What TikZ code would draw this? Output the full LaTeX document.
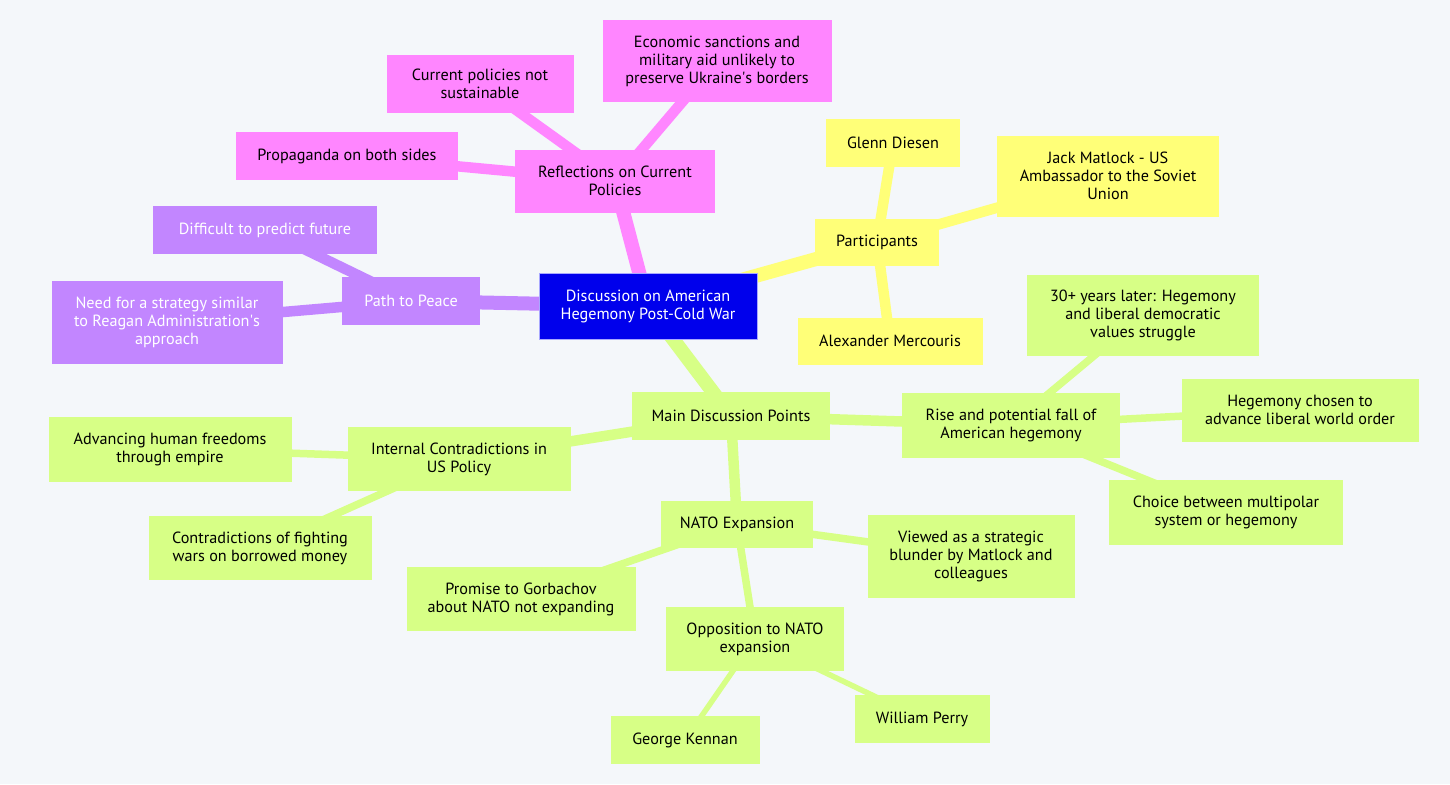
\documentclass[tikz,border=0pt]{standalone}
\usepackage{fontspec}
\setmainfont{PT Sans}
\definecolor{bgc}{HTML}{F4F7FA}
\definecolor{rootc}{HTML}{0000EC}
\definecolor{rootb}{HTML}{A8A8FF}
\definecolor{yel}{HTML}{FFFF78}
\definecolor{grn}{HTML}{D7FF86}
\definecolor{pur}{HTML}{C286FF}
\definecolor{pnk}{HTML}{FF86FF}
\pgfdeclarelayer{bglayer}
\pgfdeclarelayer{edges}
\pgfsetlayers{bglayer,edges,main}
\begin{document}
\begin{tikzpicture}[x=1pt,y=-1pt,
  every node/.style={font=\fontsize{16.2}{18}\selectfont,align=center,inner sep=0pt,text=black},
  sz/.style 2 args={minimum width=#1pt,minimum height=#2pt},
  rootbox/.style={fill=rootc,draw=rootb,line width=0.8pt,text=white},
  ybox/.style={fill=yel},
  gbox/.style={fill=grn},
  pbox/.style={fill=pur,text=white},
  kbox/.style={fill=pnk},
  e0/.style={line width=14pt},
  e1/.style={line width=10.5pt},
  e2/.style={line width=7.5pt},
  e3/.style={line width=5.5pt}]
\begin{pgfonlayer}{bglayer}
\fill[bgc] (0,0) rectangle (1450,784);
\end{pgfonlayer}
% root
\node[rootbox,sz={218}{66}] (root) at (648,306) {Discussion on American\\Hegemony Post-Cold War};
% participants
\node[ybox,sz={124}{47}] (part) at (877,242) {Participants};
\node[ybox,sz={134}{48}] (glenn) at (893,143) {Glenn Diesen};
\node[ybox,sz={222}{81}] (jack) at (1108,176) {Jack Matlock - US\\Ambassador to the Soviet\\Union};
\node[ybox,sz={185}{47}] (alex) at (890,341) {Alexander Mercouris};
% main discussion
\node[gbox,sz={198}{48}] (main) at (731,416) {Main Discussion Points};
\node[gbox,sz={218}{65}] (rise) at (1011,425) {Rise and potential fall of\\American hegemony};
\node[gbox,sz={232}{81}] (thirty) at (1143,315) {30+ years later: Hegemony\\and liberal democratic\\values struggle};
\node[gbox,sz={237}{63}] (hegch) at (1300,410) {Hegemony chosen to\\advance liberal world order};
\node[gbox,sz={234}{65}] (choice) at (1226,512) {Choice between multipolar\\system or hegemony};
\node[gbox,sz={223}{64}] (internal) at (459,459) {Internal Contradictions in\\US Policy};
\node[gbox,sz={243}{65}] (adv) at (170,449) {Advancing human freedoms\\through empire};
\node[gbox,sz={223}{64}] (contr) at (260,548) {Contradictions of fighting\\wars on borrowed money};
\node[gbox,sz={152}{47}] (nato) at (737,524) {NATO Expansion};
\node[gbox,sz={207}{83}] (viewed) at (971,556) {Viewed as a strategic\\blunder by Matlock and\\colleagues};
\node[gbox,sz={229}{64}] (promise) at (521,599) {Promise to Gorbachov\\about NATO not expanding};
\node[gbox,sz={178}{64}] (oppo) at (755,639) {Opposition to NATO\\expansion};
\node[gbox,sz={149}{48}] (kennan) at (685,740) {George Kennan};
\node[gbox,sz={135}{48}] (perry) at (922,719) {William Perry};
% path to peace
\node[pbox,sz={138}{48}] (path) at (411,301) {Path to Peace};
\node[pbox,sz={224}{48}] (diff) at (265,230) {Difficult to predict future};
\node[pbox,sz={231}{83}] (need) at (167,322) {Need for a strategy similar\\to Reagan Administration\textquotesingle s\\approach};
% reflections
\node[kbox,sz={200}{63}] (refl) at (615,181) {Reflections on Current\\Policies};
\node[kbox,sz={187}{58}] (curr) at (480,84) {Current policies not\\sustainable};
\node[kbox,sz={229}{81}] (econ) at (717,61) {Economic sanctions and\\military aid unlikely to\\preserve Ukraine\textquotesingle s borders};
\node[kbox,sz={222}{48}] (prop) at (347,156) {Propaganda on both sides};
\begin{pgfonlayer}{edges}
\draw[yel,e0] (root.center) -- (part.center);
\draw[yel,e1] (part.center) -- (glenn.center);
\draw[yel,e1] (part.center) -- (jack.center);
\draw[yel,e1] (part.center) -- (alex.center);
\draw[grn,e0] (root.center) -- (main.center);
\draw[grn,e1] (main.center) -- (rise.center);
\draw[grn,e2] (rise.center) -- (thirty.center);
\draw[grn,e2] (rise.center) -- (hegch.center);
\draw[grn,e2] (rise.center) -- (choice.center);
\draw[grn,e1] (main.center) -- (internal.center);
\draw[grn,e2] (internal.center) -- (adv.center);
\draw[grn,e2] (internal.center) -- (contr.center);
\draw[grn,e1] (main.center) -- (nato.center);
\draw[grn,e2] (nato.center) -- (viewed.center);
\draw[grn,e2] (nato.center) -- (promise.center);
\draw[grn,e2] (nato.center) -- (oppo.center);
\draw[grn,e3] (oppo.center) -- (kennan.center);
\draw[grn,e3] (oppo.center) -- (perry.center);
\draw[pur,e0] (root.center) -- (path.center);
\draw[pur,e1] (path.center) -- (diff.center);
\draw[pur,e1] (path.center) -- (need.center);
\draw[pnk,e0] (root.center) -- (refl.center);
\draw[pnk,e1] (refl.center) -- (curr.center);
\draw[pnk,e1] (refl.center) -- (econ.center);
\draw[pnk,e1] (refl.center) -- (prop.center);
\end{pgfonlayer}
\end{tikzpicture}
\end{document}
